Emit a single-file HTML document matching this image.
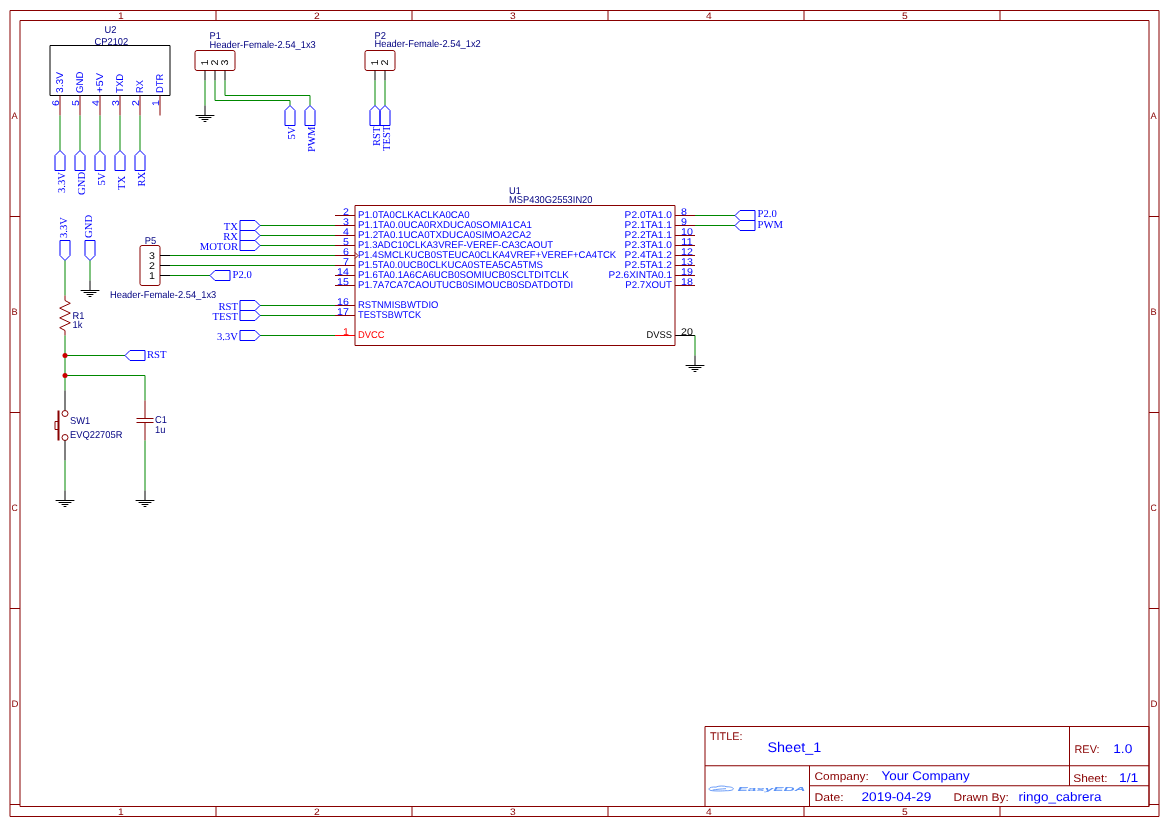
<!DOCTYPE html>
<html><head><meta charset="utf-8"><style>
html,body{margin:0;padding:0;background:#fff;}
svg{display:block;}

</style></head><body>
<svg width="1169" height="827" viewBox="0 0 1169 827" text-rendering="geometricPrecision" style="will-change:transform">
<rect x="0" y="0" width="1169" height="827" fill="#fff"/>
<g transform="translate(0 0.5)">
<path d="M10 10H1159V816H10Z" stroke="#880000" stroke-width="1" fill="none" />
<path d="M20 20H1149V806H20Z" stroke="#880000" stroke-width="1" fill="none" />
<line x1="216" y1="10" x2="216" y2="20" stroke="#880000" stroke-width="1"/>
<line x1="216" y1="806" x2="216" y2="816" stroke="#880000" stroke-width="1"/>
<line x1="412" y1="10" x2="412" y2="20" stroke="#880000" stroke-width="1"/>
<line x1="412" y1="806" x2="412" y2="816" stroke="#880000" stroke-width="1"/>
<line x1="608" y1="10" x2="608" y2="20" stroke="#880000" stroke-width="1"/>
<line x1="608" y1="806" x2="608" y2="816" stroke="#880000" stroke-width="1"/>
<line x1="804" y1="10" x2="804" y2="20" stroke="#880000" stroke-width="1"/>
<line x1="804" y1="806" x2="804" y2="816" stroke="#880000" stroke-width="1"/>
<line x1="1000" y1="10" x2="1000" y2="20" stroke="#880000" stroke-width="1"/>
<line x1="1000" y1="806" x2="1000" y2="816" stroke="#880000" stroke-width="1"/>
<line x1="10" y1="216" x2="20" y2="216" stroke="#880000" stroke-width="1"/>
<line x1="1149" y1="216" x2="1159" y2="216" stroke="#880000" stroke-width="1"/>
<line x1="10" y1="412" x2="20" y2="412" stroke="#880000" stroke-width="1"/>
<line x1="1149" y1="412" x2="1159" y2="412" stroke="#880000" stroke-width="1"/>
<line x1="10" y1="608" x2="20" y2="608" stroke="#880000" stroke-width="1"/>
<line x1="1149" y1="608" x2="1159" y2="608" stroke="#880000" stroke-width="1"/>
<line x1="10" y1="804" x2="20" y2="804" stroke="#880000" stroke-width="1"/>
<line x1="1149" y1="804" x2="1159" y2="804" stroke="#880000" stroke-width="1"/>
<text x="118" y="18.5" font-family="Liberation Sans" font-size="9.45" fill="#880000" textLength="5.73" lengthAdjust="spacingAndGlyphs">1</text>
<text x="118" y="814.5" font-family="Liberation Sans" font-size="9.45" fill="#880000" textLength="5.73" lengthAdjust="spacingAndGlyphs">1</text>
<text x="314" y="18.5" font-family="Liberation Sans" font-size="9.45" fill="#880000" textLength="5.73" lengthAdjust="spacingAndGlyphs">2</text>
<text x="314" y="814.5" font-family="Liberation Sans" font-size="9.45" fill="#880000" textLength="5.73" lengthAdjust="spacingAndGlyphs">2</text>
<text x="510" y="18.5" font-family="Liberation Sans" font-size="9.45" fill="#880000" textLength="5.73" lengthAdjust="spacingAndGlyphs">3</text>
<text x="510" y="814.5" font-family="Liberation Sans" font-size="9.45" fill="#880000" textLength="5.73" lengthAdjust="spacingAndGlyphs">3</text>
<text x="706" y="18.5" font-family="Liberation Sans" font-size="9.45" fill="#880000" textLength="5.73" lengthAdjust="spacingAndGlyphs">4</text>
<text x="706" y="814.5" font-family="Liberation Sans" font-size="9.45" fill="#880000" textLength="5.73" lengthAdjust="spacingAndGlyphs">4</text>
<text x="902" y="18.5" font-family="Liberation Sans" font-size="9.45" fill="#880000" textLength="5.73" lengthAdjust="spacingAndGlyphs">5</text>
<text x="902" y="814.5" font-family="Liberation Sans" font-size="9.45" fill="#880000" textLength="5.73" lengthAdjust="spacingAndGlyphs">5</text>
<text x="11.6" y="118" font-family="Liberation Sans" font-size="9.45" fill="#880000" textLength="6.16" lengthAdjust="spacingAndGlyphs">A</text>
<text x="1150.6" y="118" font-family="Liberation Sans" font-size="9.45" fill="#880000" textLength="6.16" lengthAdjust="spacingAndGlyphs">A</text>
<text x="11.6" y="314" font-family="Liberation Sans" font-size="9.45" fill="#880000" textLength="6.17" lengthAdjust="spacingAndGlyphs">B</text>
<text x="1150.6" y="314" font-family="Liberation Sans" font-size="9.45" fill="#880000" textLength="6.17" lengthAdjust="spacingAndGlyphs">B</text>
<text x="11.6" y="510" font-family="Liberation Sans" font-size="9.45" fill="#880000" textLength="6.28" lengthAdjust="spacingAndGlyphs">C</text>
<text x="1150.6" y="510" font-family="Liberation Sans" font-size="9.45" fill="#880000" textLength="6.28" lengthAdjust="spacingAndGlyphs">C</text>
<text x="11.6" y="706" font-family="Liberation Sans" font-size="9.45" fill="#880000" textLength="6.93" lengthAdjust="spacingAndGlyphs">D</text>
<text x="1150.6" y="706" font-family="Liberation Sans" font-size="9.45" fill="#880000" textLength="6.93" lengthAdjust="spacingAndGlyphs">D</text>
<text x="104.5" y="32.6" font-family="Liberation Sans" font-size="9.33" fill="#000080" transform="translate(104.5 32.6) scale(1 1.07) translate(-104.5 -32.6)">U2</text>
<text x="94.5" y="44.6" font-family="Liberation Sans" font-size="9.33" fill="#000080" transform="translate(94.5 44.6) scale(1 1.07) translate(-94.5 -44.6)">CP2102</text>
<path d="M50 45H170V95H50Z" stroke="#000000" stroke-width="1" fill="none" />
<line x1="60" y1="95" x2="60" y2="115" stroke="#880000" stroke-width="1"/>
<text x="63" y="92.5" font-family="Liberation Sans" font-size="9.80" fill="#0000FF" textLength="21.22" lengthAdjust="spacingAndGlyphs" transform="rotate(-90 63 92.5)">3.3V</text>
<text x="59" y="105.5" font-family="Liberation Sans" font-size="9.80" fill="#0000FF" textLength="5.94" lengthAdjust="spacingAndGlyphs" transform="rotate(-90 59 105.5)">6</text>
<line x1="80" y1="95" x2="80" y2="115" stroke="#880000" stroke-width="1"/>
<text x="83" y="92.5" font-family="Liberation Sans" font-size="9.80" fill="#0000FF" textLength="21.39" lengthAdjust="spacingAndGlyphs" transform="rotate(-90 83 92.5)">GND</text>
<text x="79" y="105.5" font-family="Liberation Sans" font-size="9.80" fill="#0000FF" textLength="5.94" lengthAdjust="spacingAndGlyphs" transform="rotate(-90 79 105.5)">5</text>
<line x1="100" y1="95" x2="100" y2="115" stroke="#880000" stroke-width="1"/>
<text x="103" y="92.5" font-family="Liberation Sans" font-size="9.80" fill="#0000FF" textLength="20.14" lengthAdjust="spacingAndGlyphs" transform="rotate(-90 103 92.5)">+5V</text>
<text x="99" y="105.5" font-family="Liberation Sans" font-size="9.80" fill="#0000FF" textLength="5.94" lengthAdjust="spacingAndGlyphs" transform="rotate(-90 99 105.5)">4</text>
<line x1="120" y1="95" x2="120" y2="115" stroke="#880000" stroke-width="1"/>
<text x="123" y="92.5" font-family="Liberation Sans" font-size="9.80" fill="#0000FF" textLength="19.28" lengthAdjust="spacingAndGlyphs" transform="rotate(-90 123 92.5)">TXD</text>
<text x="119" y="105.5" font-family="Liberation Sans" font-size="9.80" fill="#0000FF" textLength="5.94" lengthAdjust="spacingAndGlyphs" transform="rotate(-90 119 105.5)">3</text>
<line x1="140" y1="95" x2="140" y2="115" stroke="#880000" stroke-width="1"/>
<text x="143" y="92.5" font-family="Liberation Sans" font-size="9.80" fill="#0000FF" textLength="12.87" lengthAdjust="spacingAndGlyphs" transform="rotate(-90 143 92.5)">RX</text>
<text x="139" y="105.5" font-family="Liberation Sans" font-size="9.80" fill="#0000FF" textLength="5.94" lengthAdjust="spacingAndGlyphs" transform="rotate(-90 139 105.5)">2</text>
<line x1="160" y1="95" x2="160" y2="115" stroke="#880000" stroke-width="1"/>
<text x="163" y="92.5" font-family="Liberation Sans" font-size="9.80" fill="#0000FF" textLength="19.37" lengthAdjust="spacingAndGlyphs" transform="rotate(-90 163 92.5)">DTR</text>
<text x="159" y="105.5" font-family="Liberation Sans" font-size="9.80" fill="#0000FF" textLength="5.94" lengthAdjust="spacingAndGlyphs" transform="rotate(-90 159 105.5)">1</text>
<line x1="60" y1="115" x2="60" y2="150" stroke="#008800" stroke-width="1"/>
<path d="M60 150L65 155V170H55V155Z" stroke="#0000FF" stroke-width="1" fill="none" />
<text x="65" y="192.5" font-family="Liberation Serif" font-size="10.67" fill="#0000FF" transform="rotate(-90 65 192.5)">3.3V</text>
<line x1="80" y1="115" x2="80" y2="150" stroke="#008800" stroke-width="1"/>
<path d="M80 150L85 155V170H75V155Z" stroke="#0000FF" stroke-width="1" fill="none" />
<text x="85" y="194.5" font-family="Liberation Serif" font-size="10.67" fill="#0000FF" transform="rotate(-90 85 194.5)">GND</text>
<line x1="100" y1="115" x2="100" y2="150" stroke="#008800" stroke-width="1"/>
<path d="M100 150L105 155V170H95V155Z" stroke="#0000FF" stroke-width="1" fill="none" />
<text x="105" y="185" font-family="Liberation Serif" font-size="10.67" fill="#0000FF" transform="rotate(-90 105 185)">5V</text>
<line x1="120" y1="115" x2="120" y2="150" stroke="#008800" stroke-width="1"/>
<path d="M120 150L125 155V170H115V155Z" stroke="#0000FF" stroke-width="1" fill="none" />
<text x="125" y="189.5" font-family="Liberation Serif" font-size="10.67" fill="#0000FF" transform="rotate(-90 125 189.5)">TX</text>
<line x1="140" y1="115" x2="140" y2="150" stroke="#008800" stroke-width="1"/>
<path d="M140 150L145 155V170H135V155Z" stroke="#0000FF" stroke-width="1" fill="none" />
<text x="145" y="186" font-family="Liberation Serif" font-size="10.67" fill="#0000FF" transform="rotate(-90 145 186)">RX</text>
<text x="209.5" y="38.2" font-family="Liberation Sans" font-size="9.33" fill="#000080" transform="translate(209.5 38.2) scale(1 1.07) translate(-209.5 -38.2)">P1</text>
<text x="209.5" y="47.2" font-family="Liberation Sans" font-size="9.33" fill="#000080" transform="translate(209.5 47.2) scale(1 1.07) translate(-209.5 -47.2)">Header-Female-2.54_1x3</text>
<path d="M197 50H233Q235 50 235 52V68Q235 70 233 70H197Q195 70 195 68V52Q195 50 197 50Z" stroke="#880000" stroke-width="1" fill="none" />
<text x="208" y="62" font-family="Liberation Sans" font-size="9.80" fill="#000000" text-anchor="middle" textLength="5.94" lengthAdjust="spacingAndGlyphs" transform="rotate(-90 208 62)">1</text>
<line x1="205" y1="70" x2="205" y2="80" stroke="#000000" stroke-width="1"/>
<text x="218" y="62" font-family="Liberation Sans" font-size="9.80" fill="#000000" text-anchor="middle" textLength="5.94" lengthAdjust="spacingAndGlyphs" transform="rotate(-90 218 62)">2</text>
<line x1="215" y1="70" x2="215" y2="80" stroke="#000000" stroke-width="1"/>
<text x="228" y="62" font-family="Liberation Sans" font-size="9.80" fill="#000000" text-anchor="middle" textLength="5.94" lengthAdjust="spacingAndGlyphs" transform="rotate(-90 228 62)">3</text>
<line x1="225" y1="70" x2="225" y2="80" stroke="#000000" stroke-width="1"/>
<line x1="205" y1="80" x2="205" y2="105" stroke="#008800" stroke-width="1"/>
<line x1="205" y1="105" x2="205" y2="115" stroke="#000000" stroke-width="1"/>
<line x1="196" y1="115" x2="214" y2="115" stroke="#000000" stroke-width="1" stroke-linecap="round"/>
<line x1="199" y1="117" x2="211" y2="117" stroke="#000000" stroke-width="1" stroke-linecap="round"/>
<line x1="202" y1="119" x2="208" y2="119" stroke="#000000" stroke-width="1" stroke-linecap="round"/>
<line x1="204" y1="121" x2="206" y2="121" stroke="#000000" stroke-width="1" stroke-linecap="round"/>
<path d="M215 80V100H290V105" stroke="#008800" stroke-width="1" fill="none" />
<path d="M225 80V95H310V105" stroke="#008800" stroke-width="1" fill="none" />
<path d="M290 105L295 110V125H285V110Z" stroke="#0000FF" stroke-width="1" fill="none" />
<path d="M310 105L315 110V125H305V110Z" stroke="#0000FF" stroke-width="1" fill="none" />
<text x="295" y="139" font-family="Liberation Serif" font-size="10.67" fill="#0000FF" transform="rotate(-90 295 139)">5V</text>
<text x="315" y="151.5" font-family="Liberation Serif" font-size="10.67" fill="#0000FF" transform="rotate(-90 315 151.5)">PWM</text>
<text x="374.5" y="38" font-family="Liberation Sans" font-size="9.33" fill="#000080" transform="translate(374.5 38) scale(1 1.07) translate(-374.5 -38)">P2</text>
<text x="374.5" y="46.7" font-family="Liberation Sans" font-size="9.33" fill="#000080" transform="translate(374.5 46.7) scale(1 1.07) translate(-374.5 -46.7)">Header-Female-2.54_1x2</text>
<path d="M367 50H393Q395 50 395 52V68Q395 70 393 70H367Q365 70 365 68V52Q365 50 367 50Z" stroke="#880000" stroke-width="1" fill="none" />
<text x="378" y="62" font-family="Liberation Sans" font-size="9.80" fill="#000000" text-anchor="middle" textLength="5.94" lengthAdjust="spacingAndGlyphs" transform="rotate(-90 378 62)">1</text>
<line x1="375" y1="70" x2="375" y2="80" stroke="#000000" stroke-width="1"/>
<line x1="375" y1="80" x2="375" y2="105" stroke="#008800" stroke-width="1"/>
<text x="388" y="62" font-family="Liberation Sans" font-size="9.80" fill="#000000" text-anchor="middle" textLength="5.94" lengthAdjust="spacingAndGlyphs" transform="rotate(-90 388 62)">2</text>
<line x1="385" y1="70" x2="385" y2="80" stroke="#000000" stroke-width="1"/>
<line x1="385" y1="80" x2="385" y2="105" stroke="#008800" stroke-width="1"/>
<path d="M375 105L380 110V125H370V110Z" stroke="#0000FF" stroke-width="1" fill="none" />
<path d="M385 105L390 110V125H380V110Z" stroke="#0000FF" stroke-width="1" fill="none" />
<text x="380" y="145.5" font-family="Liberation Serif" font-size="10.67" fill="#0000FF" transform="rotate(-90 380 145.5)">RST</text>
<text x="390" y="150.5" font-family="Liberation Serif" font-size="10.67" fill="#0000FF" transform="rotate(-90 390 150.5)">TEST</text>
<text x="509" y="193" font-family="Liberation Sans" font-size="9.33" fill="#000080" transform="translate(509 193) scale(1 1.07) translate(-509 -193)">U1</text>
<text x="509" y="202.9" font-family="Liberation Sans" font-size="9.33" fill="#000080" transform="translate(509 202.9) scale(1 1.07) translate(-509 -202.9)">MSP430G2553IN20</text>
<line x1="335" y1="215" x2="355" y2="215" stroke="#880000" stroke-width="1"/>
<text x="349" y="214.5" font-family="Liberation Sans" font-size="9.80" fill="#0000FF" text-anchor="end" textLength="5.94" lengthAdjust="spacingAndGlyphs">2</text>
<text x="358" y="217.8" font-family="Liberation Sans" font-size="9.80" fill="#0000FF" textLength="111.68" lengthAdjust="spacingAndGlyphs">P1.0TA0CLKACLKA0CA0</text>
<line x1="335" y1="225" x2="355" y2="225" stroke="#880000" stroke-width="1"/>
<text x="349" y="224.5" font-family="Liberation Sans" font-size="9.80" fill="#0000FF" text-anchor="end" textLength="5.94" lengthAdjust="spacingAndGlyphs">3</text>
<text x="358" y="227.8" font-family="Liberation Sans" font-size="9.80" fill="#0000FF" textLength="173.99" lengthAdjust="spacingAndGlyphs">P1.1TA0.0UCA0RXDUCA0SOMIA1CA1</text>
<line x1="335" y1="235" x2="355" y2="235" stroke="#880000" stroke-width="1"/>
<text x="349" y="234.5" font-family="Liberation Sans" font-size="9.80" fill="#0000FF" text-anchor="end" textLength="5.94" lengthAdjust="spacingAndGlyphs">4</text>
<text x="358" y="237.8" font-family="Liberation Sans" font-size="9.80" fill="#0000FF" textLength="173.20" lengthAdjust="spacingAndGlyphs">P1.2TA0.1UCA0TXDUCA0SIMOA2CA2</text>
<line x1="335" y1="245" x2="355" y2="245" stroke="#880000" stroke-width="1"/>
<text x="349" y="244.5" font-family="Liberation Sans" font-size="9.80" fill="#0000FF" text-anchor="end" textLength="5.94" lengthAdjust="spacingAndGlyphs">5</text>
<text x="358" y="247.8" font-family="Liberation Sans" font-size="9.80" fill="#0000FF" textLength="195.05" lengthAdjust="spacingAndGlyphs">P1.3ADC10CLKA3VREF-VEREF-CA3CAOUT</text>
<line x1="335" y1="255" x2="355" y2="255" stroke="#880000" stroke-width="1"/>
<text x="349" y="254.5" font-family="Liberation Sans" font-size="9.80" fill="#0000FF" text-anchor="end" textLength="5.94" lengthAdjust="spacingAndGlyphs">6</text>
<text x="358" y="257.8" font-family="Liberation Sans" font-size="9.80" fill="#0000FF" textLength="258.22" lengthAdjust="spacingAndGlyphs">P1.4SMCLKUCB0STEUCA0CLKA4VREF+VEREF+CA4TCK</text>
<line x1="335" y1="265" x2="355" y2="265" stroke="#880000" stroke-width="1"/>
<text x="349" y="264.5" font-family="Liberation Sans" font-size="9.80" fill="#0000FF" text-anchor="end" textLength="5.94" lengthAdjust="spacingAndGlyphs">7</text>
<text x="358" y="267.8" font-family="Liberation Sans" font-size="9.80" fill="#0000FF" textLength="184.90" lengthAdjust="spacingAndGlyphs">P1.5TA0.0UCB0CLKUCA0STEA5CA5TMS</text>
<line x1="335" y1="275" x2="355" y2="275" stroke="#880000" stroke-width="1"/>
<text x="349" y="274.5" font-family="Liberation Sans" font-size="9.80" fill="#0000FF" text-anchor="end" textLength="11.87" lengthAdjust="spacingAndGlyphs">14</text>
<text x="358" y="277.8" font-family="Liberation Sans" font-size="9.80" fill="#0000FF" textLength="210.76" lengthAdjust="spacingAndGlyphs">P1.6TA0.1A6CA6UCB0SOMIUCB0SCLTDITCLK</text>
<line x1="335" y1="285" x2="355" y2="285" stroke="#880000" stroke-width="1"/>
<text x="349" y="284.5" font-family="Liberation Sans" font-size="9.80" fill="#0000FF" text-anchor="end" textLength="11.87" lengthAdjust="spacingAndGlyphs">15</text>
<text x="358" y="287.8" font-family="Liberation Sans" font-size="9.80" fill="#0000FF" textLength="215.16" lengthAdjust="spacingAndGlyphs">P1.7A7CA7CAOUTUCB0SIMOUCB0SDATDOTDI</text>
<line x1="335" y1="305" x2="355" y2="305" stroke="#880000" stroke-width="1"/>
<text x="349" y="304.5" font-family="Liberation Sans" font-size="9.80" fill="#0000FF" text-anchor="end" textLength="11.87" lengthAdjust="spacingAndGlyphs">16</text>
<text x="358" y="307.8" font-family="Liberation Sans" font-size="9.80" fill="#0000FF" textLength="80.41" lengthAdjust="spacingAndGlyphs">RSTNMISBWTDIO</text>
<line x1="335" y1="315" x2="355" y2="315" stroke="#880000" stroke-width="1"/>
<text x="349" y="314.5" font-family="Liberation Sans" font-size="9.80" fill="#0000FF" text-anchor="end" textLength="11.87" lengthAdjust="spacingAndGlyphs">17</text>
<text x="358" y="317.8" font-family="Liberation Sans" font-size="9.80" fill="#0000FF" textLength="63.10" lengthAdjust="spacingAndGlyphs">TESTSBWTCK</text>
<line x1="335" y1="335" x2="355" y2="335" stroke="#FF0000" stroke-width="1"/>
<text x="349" y="334.5" font-family="Liberation Sans" font-size="9.80" fill="#FF0000" text-anchor="end" textLength="5.94" lengthAdjust="spacingAndGlyphs">1</text>
<text x="358" y="337.8" font-family="Liberation Sans" font-size="9.80" fill="#FF0000" textLength="26.60" lengthAdjust="spacingAndGlyphs">DVCC</text>
<line x1="675" y1="215" x2="695" y2="215" stroke="#880000" stroke-width="1"/>
<text x="681" y="214.5" font-family="Liberation Sans" font-size="9.80" fill="#0000FF" textLength="5.94" lengthAdjust="spacingAndGlyphs">8</text>
<text x="672" y="217.8" font-family="Liberation Sans" font-size="9.80" fill="#0000FF" text-anchor="end" textLength="47.38" lengthAdjust="spacingAndGlyphs">P2.0TA1.0</text>
<line x1="675" y1="225" x2="695" y2="225" stroke="#880000" stroke-width="1"/>
<text x="681" y="224.5" font-family="Liberation Sans" font-size="9.80" fill="#0000FF" textLength="5.94" lengthAdjust="spacingAndGlyphs">9</text>
<text x="672" y="227.8" font-family="Liberation Sans" font-size="9.80" fill="#0000FF" text-anchor="end" textLength="47.38" lengthAdjust="spacingAndGlyphs">P2.1TA1.1</text>
<line x1="675" y1="235" x2="695" y2="235" stroke="#880000" stroke-width="1"/>
<text x="681" y="234.5" font-family="Liberation Sans" font-size="9.80" fill="#0000FF" textLength="11.87" lengthAdjust="spacingAndGlyphs">10</text>
<text x="672" y="237.8" font-family="Liberation Sans" font-size="9.80" fill="#0000FF" text-anchor="end" textLength="47.38" lengthAdjust="spacingAndGlyphs">P2.2TA1.1</text>
<line x1="675" y1="245" x2="695" y2="245" stroke="#880000" stroke-width="1"/>
<text x="681" y="244.5" font-family="Liberation Sans" font-size="9.80" fill="#0000FF" textLength="11.87" lengthAdjust="spacingAndGlyphs">11</text>
<text x="672" y="247.8" font-family="Liberation Sans" font-size="9.80" fill="#0000FF" text-anchor="end" textLength="47.38" lengthAdjust="spacingAndGlyphs">P2.3TA1.0</text>
<line x1="675" y1="255" x2="695" y2="255" stroke="#880000" stroke-width="1"/>
<text x="681" y="254.5" font-family="Liberation Sans" font-size="9.80" fill="#0000FF" textLength="11.87" lengthAdjust="spacingAndGlyphs">12</text>
<text x="672" y="257.8" font-family="Liberation Sans" font-size="9.80" fill="#0000FF" text-anchor="end" textLength="47.38" lengthAdjust="spacingAndGlyphs">P2.4TA1.2</text>
<line x1="675" y1="265" x2="695" y2="265" stroke="#880000" stroke-width="1"/>
<text x="681" y="264.5" font-family="Liberation Sans" font-size="9.80" fill="#0000FF" textLength="11.87" lengthAdjust="spacingAndGlyphs">13</text>
<text x="672" y="267.8" font-family="Liberation Sans" font-size="9.80" fill="#0000FF" text-anchor="end" textLength="47.38" lengthAdjust="spacingAndGlyphs">P2.5TA1.2</text>
<line x1="675" y1="275" x2="695" y2="275" stroke="#880000" stroke-width="1"/>
<text x="681" y="274.5" font-family="Liberation Sans" font-size="9.80" fill="#0000FF" textLength="11.87" lengthAdjust="spacingAndGlyphs">19</text>
<text x="672" y="277.8" font-family="Liberation Sans" font-size="9.80" fill="#0000FF" text-anchor="end" textLength="63.51" lengthAdjust="spacingAndGlyphs">P2.6XINTA0.1</text>
<line x1="675" y1="285" x2="695" y2="285" stroke="#880000" stroke-width="1"/>
<text x="681" y="284.5" font-family="Liberation Sans" font-size="9.80" fill="#0000FF" textLength="11.87" lengthAdjust="spacingAndGlyphs">18</text>
<text x="672" y="287.8" font-family="Liberation Sans" font-size="9.80" fill="#0000FF" text-anchor="end" textLength="46.73" lengthAdjust="spacingAndGlyphs">P2.7XOUT</text>
<line x1="675" y1="335" x2="695" y2="335" stroke="#000000" stroke-width="1"/>
<text x="681" y="334.5" font-family="Liberation Sans" font-size="9.80" fill="#000000" textLength="11.87" lengthAdjust="spacingAndGlyphs">20</text>
<text x="672" y="337.8" font-family="Liberation Sans" font-size="9.80" fill="#000000" text-anchor="end" textLength="25.41" lengthAdjust="spacingAndGlyphs">DVSS</text>
<path d="M355 205H675V345H355Z" stroke="#880000" stroke-width="1" fill="none" />
<path d="M355 252L358 255L355 258" stroke="#880000" stroke-width="1" fill="none" />
<line x1="695" y1="335" x2="695" y2="355" stroke="#008800" stroke-width="1"/>
<line x1="695" y1="355" x2="695" y2="365" stroke="#000000" stroke-width="1"/>
<line x1="686" y1="365" x2="704" y2="365" stroke="#000000" stroke-width="1" stroke-linecap="round"/>
<line x1="689" y1="367" x2="701" y2="367" stroke="#000000" stroke-width="1" stroke-linecap="round"/>
<line x1="692" y1="369" x2="698" y2="369" stroke="#000000" stroke-width="1" stroke-linecap="round"/>
<line x1="694" y1="371" x2="696" y2="371" stroke="#000000" stroke-width="1" stroke-linecap="round"/>
<line x1="260" y1="225" x2="335" y2="225" stroke="#008800" stroke-width="1"/>
<path d="M260 225L255 220H240V230H255Z" stroke="#0000FF" stroke-width="1" fill="none" />
<text x="238" y="229.8" font-family="Liberation Serif" font-size="10.67" fill="#0000FF" text-anchor="end">TX</text>
<line x1="260" y1="235" x2="335" y2="235" stroke="#008800" stroke-width="1"/>
<path d="M260 235L255 230H240V240H255Z" stroke="#0000FF" stroke-width="1" fill="none" />
<text x="238" y="239.8" font-family="Liberation Serif" font-size="10.67" fill="#0000FF" text-anchor="end">RX</text>
<line x1="260" y1="245" x2="335" y2="245" stroke="#008800" stroke-width="1"/>
<path d="M260 245L255 240H240V250H255Z" stroke="#0000FF" stroke-width="1" fill="none" />
<text x="238" y="249.8" font-family="Liberation Serif" font-size="10.67" fill="#0000FF" text-anchor="end">MOTOR</text>
<line x1="260" y1="305" x2="335" y2="305" stroke="#008800" stroke-width="1"/>
<path d="M260 305L255 300H240V310H255Z" stroke="#0000FF" stroke-width="1" fill="none" />
<text x="238" y="309.8" font-family="Liberation Serif" font-size="10.67" fill="#0000FF" text-anchor="end">RST</text>
<line x1="260" y1="315" x2="335" y2="315" stroke="#008800" stroke-width="1"/>
<path d="M260 315L255 310H240V320H255Z" stroke="#0000FF" stroke-width="1" fill="none" />
<text x="238" y="319.8" font-family="Liberation Serif" font-size="10.67" fill="#0000FF" text-anchor="end">TEST</text>
<line x1="260" y1="335" x2="335" y2="335" stroke="#008800" stroke-width="1"/>
<path d="M260 335L255 330H240V340H255Z" stroke="#0000FF" stroke-width="1" fill="none" />
<text x="238" y="339.8" font-family="Liberation Serif" font-size="10.67" fill="#0000FF" text-anchor="end">3.3V</text>
<line x1="170" y1="255" x2="335" y2="255" stroke="#008800" stroke-width="1"/>
<line x1="170" y1="265" x2="335" y2="265" stroke="#008800" stroke-width="1"/>
<line x1="170" y1="275" x2="210" y2="275" stroke="#008800" stroke-width="1"/>
<path d="M210 275L215 270H230V280H215Z" stroke="#0000FF" stroke-width="1" fill="none" />
<text x="232.5" y="277" font-family="Liberation Serif" font-size="10.67" fill="#0000FF">P2.0</text>
<line x1="695" y1="215" x2="735" y2="215" stroke="#008800" stroke-width="1"/>
<line x1="695" y1="225" x2="735" y2="225" stroke="#008800" stroke-width="1"/>
<path d="M735 215L740 210H755V220H740Z" stroke="#0000FF" stroke-width="1" fill="none" />
<path d="M735 225L740 220H755V230H740Z" stroke="#0000FF" stroke-width="1" fill="none" />
<text x="757.5" y="216.5" font-family="Liberation Serif" font-size="10.67" fill="#0000FF">P2.0</text>
<text x="757.5" y="227" font-family="Liberation Serif" font-size="10.67" fill="#0000FF">PWM</text>
<text x="150.5" y="243" font-family="Liberation Sans" font-size="9.33" fill="#000080" text-anchor="middle" transform="translate(150.5 243) scale(1 1.07) translate(-150.5 -243)">P5</text>
<path d="M142 245H158Q160 245 160 247V283Q160 285 158 285H142Q140 285 140 283V247Q140 245 142 245Z" stroke="#880000" stroke-width="1" fill="none" />
<text x="155" y="258.1" font-family="Liberation Sans" font-size="9.80" fill="#000000" text-anchor="end" textLength="5.94" lengthAdjust="spacingAndGlyphs">3</text>
<line x1="160" y1="255" x2="170" y2="255" stroke="#000000" stroke-width="1"/>
<text x="155" y="268.1" font-family="Liberation Sans" font-size="9.80" fill="#000000" text-anchor="end" textLength="5.94" lengthAdjust="spacingAndGlyphs">2</text>
<line x1="160" y1="265" x2="170" y2="265" stroke="#000000" stroke-width="1"/>
<text x="155" y="278.1" font-family="Liberation Sans" font-size="9.80" fill="#000000" text-anchor="end" textLength="5.94" lengthAdjust="spacingAndGlyphs">1</text>
<line x1="160" y1="275" x2="170" y2="275" stroke="#000000" stroke-width="1"/>
<text x="110" y="297.7" font-family="Liberation Sans" font-size="9.33" fill="#000080" transform="translate(110 297.7) scale(1 1.07) translate(-110 -297.7)">Header-Female-2.54_1x3</text>
<path d="M65 260L70 255V240H60V255Z" stroke="#0000FF" stroke-width="1" fill="none" />
<path d="M90 260L95 255V240H85V255Z" stroke="#0000FF" stroke-width="1" fill="none" />
<text x="67" y="237.5" font-family="Liberation Serif" font-size="10.67" fill="#0000FF" transform="rotate(-90 67 237.5)">3.3V</text>
<text x="92" y="237.5" font-family="Liberation Serif" font-size="10.67" fill="#0000FF" transform="rotate(-90 92 237.5)">GND</text>
<line x1="65" y1="260" x2="65" y2="295" stroke="#008800" stroke-width="1"/>
<line x1="90" y1="260" x2="90" y2="280" stroke="#008800" stroke-width="1"/>
<line x1="90" y1="280" x2="90" y2="290" stroke="#000000" stroke-width="1"/>
<line x1="81" y1="290" x2="99" y2="290" stroke="#000000" stroke-width="1" stroke-linecap="round"/>
<line x1="84" y1="292" x2="96" y2="292" stroke="#000000" stroke-width="1" stroke-linecap="round"/>
<line x1="87" y1="294" x2="93" y2="294" stroke="#000000" stroke-width="1" stroke-linecap="round"/>
<line x1="89" y1="296" x2="91" y2="296" stroke="#000000" stroke-width="1" stroke-linecap="round"/>
<line x1="65" y1="295" x2="65" y2="300" stroke="#880000" stroke-width="1"/>
<path d="M65 300L70.3 302.8L59.7 307.6L70.3 312.6L59.7 317.4L70.3 322.3L59.7 327.2L65 330" stroke="#880000" stroke-width="1" fill="none" stroke-linejoin="miter" stroke-miterlimit="10"/>
<line x1="65" y1="330" x2="65" y2="335" stroke="#880000" stroke-width="1"/>
<text x="72.5" y="318" font-family="Liberation Sans" font-size="9.33" fill="#000080" transform="translate(72.5 318) scale(1 1.07) translate(-72.5 -318)">R1</text>
<text x="72.5" y="327" font-family="Liberation Sans" font-size="9.33" fill="#000080" transform="translate(72.5 327) scale(1 1.07) translate(-72.5 -327)">1k</text>
<line x1="65" y1="335" x2="65" y2="390" stroke="#008800" stroke-width="1"/>
<line x1="65" y1="355" x2="125" y2="355" stroke="#008800" stroke-width="1"/>
<path d="M125 355L130 350H145V360H130Z" stroke="#0000FF" stroke-width="1" fill="none" />
<text x="147" y="357" font-family="Liberation Serif" font-size="10.67" fill="#0000FF">RST</text>
<path d="M65 375H145V400" stroke="#008800" stroke-width="1" fill="none" />
<circle cx="65" cy="355" r="2.5" fill="#CC0000"/>
<circle cx="65" cy="375" r="2.5" fill="#CC0000"/>
<line x1="65" y1="390" x2="65" y2="410" stroke="#000000" stroke-width="1"/>
<circle cx="65" cy="413" r="3" stroke="#880000" fill="none"/>
<circle cx="65" cy="437" r="3" stroke="#880000" fill="none"/>
<line x1="58.5" y1="410" x2="58.5" y2="440" stroke="#880000" stroke-width="2"/>
<path d="M58 421H55V429H58" stroke="#880000" stroke-width="1" fill="none" />
<line x1="65" y1="440" x2="65" y2="460" stroke="#000000" stroke-width="1"/>
<line x1="65" y1="460" x2="65" y2="490" stroke="#008800" stroke-width="1"/>
<line x1="65" y1="490" x2="65" y2="500" stroke="#000000" stroke-width="1"/>
<line x1="56" y1="500" x2="74" y2="500" stroke="#000000" stroke-width="1" stroke-linecap="round"/>
<line x1="59" y1="502" x2="71" y2="502" stroke="#000000" stroke-width="1" stroke-linecap="round"/>
<line x1="62" y1="504" x2="68" y2="504" stroke="#000000" stroke-width="1" stroke-linecap="round"/>
<line x1="64" y1="506" x2="66" y2="506" stroke="#000000" stroke-width="1" stroke-linecap="round"/>
<text x="70" y="423.3" font-family="Liberation Sans" font-size="9.33" fill="#000080" transform="translate(70 423.3) scale(1 1.07) translate(-70 -423.3)">SW1</text>
<text x="70" y="437.2" font-family="Liberation Sans" font-size="9.33" fill="#000080" transform="translate(70 437.2) scale(1 1.07) translate(-70 -437.2)">EVQ22705R</text>
<line x1="145" y1="400" x2="145" y2="418" stroke="#880000" stroke-width="1"/>
<line x1="136.5" y1="418" x2="153.5" y2="418" stroke="#880000" stroke-width="1"/>
<line x1="136.5" y1="422" x2="153.5" y2="422" stroke="#880000" stroke-width="1"/>
<line x1="145" y1="422" x2="145" y2="440" stroke="#880000" stroke-width="1"/>
<line x1="145" y1="440" x2="145" y2="490" stroke="#008800" stroke-width="1"/>
<line x1="145" y1="490" x2="145" y2="500" stroke="#000000" stroke-width="1"/>
<line x1="136" y1="500" x2="154" y2="500" stroke="#000000" stroke-width="1" stroke-linecap="round"/>
<line x1="139" y1="502" x2="151" y2="502" stroke="#000000" stroke-width="1" stroke-linecap="round"/>
<line x1="142" y1="504" x2="148" y2="504" stroke="#000000" stroke-width="1" stroke-linecap="round"/>
<line x1="144" y1="506" x2="146" y2="506" stroke="#000000" stroke-width="1" stroke-linecap="round"/>
<text x="155" y="422.8" font-family="Liberation Sans" font-size="9.33" fill="#000080" transform="translate(155 422.8) scale(1 1.07) translate(-155 -422.8)">C1</text>
<text x="155" y="432" font-family="Liberation Sans" font-size="9.33" fill="#000080" transform="translate(155 432) scale(1 1.07) translate(-155 -432)">1u</text>
<path d="M705 726H1149V806H705Z" stroke="#880000" stroke-width="1" fill="none" />
<line x1="705" y1="765.25" x2="1149" y2="765.25" stroke="#880000" stroke-width="1"/>
<line x1="809.5" y1="765.25" x2="809.5" y2="806" stroke="#880000" stroke-width="1"/>
<line x1="809.5" y1="785.25" x2="1149" y2="785.25" stroke="#880000" stroke-width="1"/>
<line x1="1069.5" y1="726" x2="1069.5" y2="785.25" stroke="#880000" stroke-width="1"/>
<text x="710" y="739.3" font-family="Liberation Sans" font-size="11.20" fill="#880000" textLength="32.46" lengthAdjust="spacingAndGlyphs">TITLE:</text>
<text x="767.5" y="751.5" font-family="Liberation Sans" font-size="14.00" fill="#0000FF" textLength="53.68" lengthAdjust="spacingAndGlyphs">Sheet_1</text>
<text x="1074.5" y="752.3" font-family="Liberation Sans" font-size="11.20" fill="#880000" textLength="25.05" lengthAdjust="spacingAndGlyphs">REV:</text>
<text x="1113.2" y="752.3" font-family="Liberation Sans" font-size="12.60" fill="#0000FF" textLength="19.08" lengthAdjust="spacingAndGlyphs">1.0</text>
<text x="1073.2" y="781" font-family="Liberation Sans" font-size="11.20" fill="#880000" textLength="34.44" lengthAdjust="spacingAndGlyphs">Sheet:</text>
<text x="1119" y="781" font-family="Liberation Sans" font-size="12.60" fill="#0000FF" textLength="19.31" lengthAdjust="spacingAndGlyphs">1/1</text>
<text x="814.5" y="779.2" font-family="Liberation Sans" font-size="11.20" fill="#880000" textLength="54.36" lengthAdjust="spacingAndGlyphs">Company:</text>
<text x="881.5" y="779.2" font-family="Liberation Sans" font-size="12.60" fill="#0000FF" textLength="88.11" lengthAdjust="spacingAndGlyphs">Your Company</text>
<text x="814.5" y="800.8" font-family="Liberation Sans" font-size="11.20" fill="#880000" textLength="29.10" lengthAdjust="spacingAndGlyphs">Date:</text>
<text x="861.5" y="800.8" font-family="Liberation Sans" font-size="12.60" fill="#0000FF" textLength="69.74" lengthAdjust="spacingAndGlyphs">2019-04-29</text>
<text x="953.5" y="800.8" font-family="Liberation Sans" font-size="11.20" fill="#880000" textLength="55.25" lengthAdjust="spacingAndGlyphs">Drawn By:</text>
<text x="1018.5" y="800.8" font-family="Liberation Sans" font-size="12.60" fill="#0000FF" textLength="83.00" lengthAdjust="spacingAndGlyphs">ringo_cabrera</text>
<g fill="none" stroke="#3f7ff5" stroke-width="0.9" opacity="0.85"><path d="M709 788.3C709.5 786.8 713 786.3 716 786.6C718 785.3 724 785.1 727 786.3C730 786.2 733.5 787 733.4 788.4C733.2 789.6 730 790.3 726 790.2C722 790.6 714 790.6 711 790C709.5 789.7 708.8 789 709 788.3Z"/><path d="M712.5 789.6C716 788.8 722 788.4 726 788.2"/></g>
<text x="737.5" y="790.6" font-family="Liberation Sans" font-weight="bold" font-style="italic" font-size="5.8" fill="#3f7ff5" opacity="0.85" textLength="68" lengthAdjust="spacingAndGlyphs">EasyEDA</text>
</g>
</svg>
</body></html>
